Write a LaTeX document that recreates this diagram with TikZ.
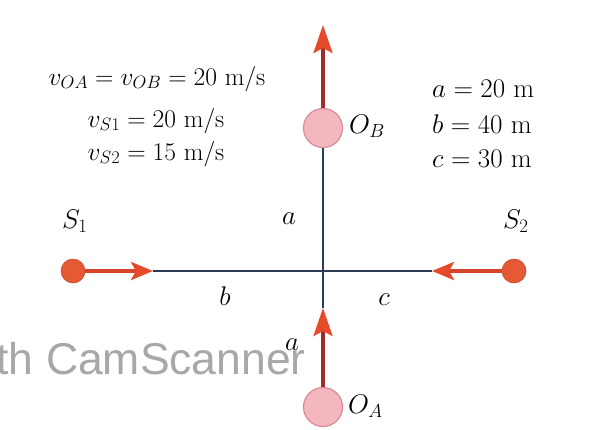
\RequirePackage{fix-cm}
\documentclass[tikz,border=0pt]{standalone}
\usepackage{fontspec}
\newfontfamily\wmfont{Liberation Sans}
\usetikzlibrary{arrows.meta}
\definecolor{linecol}{HTML}{2C3B55}
\definecolor{headcol}{HTML}{E54A2A}
\definecolor{oshaft}{HTML}{A02A2C}
\definecolor{sshaft}{HTML}{D6442B}
\definecolor{pinkfill}{HTML}{F4B7BF}
\definecolor{pinkdraw}{HTML}{D88C98}
\definecolor{dotcol}{HTML}{E55A35}
\definecolor{wmcol}{HTML}{A8A8A8}
\tikzset{
  eqtext/.style={font=\fontsize{25.5}{28}\selectfont, inner sep=0pt},
  lbltext/.style={font=\fontsize{27}{30}\selectfont, inner sep=0pt},
  ocircle/.style={circle, minimum size=39pt, inner sep=0pt, fill=pinkfill, draw=pinkdraw, line width=1.2pt},
  sdot/.style={circle, minimum size=24pt, inner sep=0pt, fill=dotcol, draw=dotcol!85!black, line width=0.6pt},
  thinline/.style={draw=linecol, line width=1.3pt},
  oarrow/.style={draw=oshaft, line width=3.5pt, -{Stealth[length=28pt,width=19pt,inset=5pt,color=headcol]}},
  sarrow/.style={draw=sshaft, line width=4pt, -{Stealth[length=22pt,width=18pt,inset=5pt,color=headcol]}},
}
\begin{document}
\begin{tikzpicture}[x=1pt,y=-1pt]
\useasboundingbox[fill=white] (0,0) rectangle (596,429);
% watermark
\node[anchor=base east, inner sep=0pt, text=wmcol, font=\wmfont\fontsize{44.5}{50}\selectfont] (wm) at (306,374) {th CamScanner};
% bodies
\node[ocircle] (OB) at (323,128) {};
\node[ocircle] (OA) at (323,407) {};
\node[sdot] (S1d) at (73,271) {};
\node[sdot] (S2d) at (514,271) {};
\coordinate (OBtip) at (323,25);
\coordinate (OAtip) at (323,308);
\coordinate (S1tip) at (153,271);
\coordinate (S2tip) at (432,271);
% thin lines
\draw[thinline] (OB.south) -- (OAtip);
\draw[thinline] (S1tip) -- (S2tip);
% arrows
\draw[oarrow] (OB.north) -- (OBtip);
\draw[oarrow] (OA.north) -- (OAtip);
\draw[sarrow] (S1d.east) -- (S1tip);
\draw[sarrow] (S2d.west) -- (S2tip);
% labels
\node[lbltext, anchor=base west] (lOB) at (349,133) {$O_B$};
\node[lbltext, anchor=base west] (lOA) at (348,413) {$O_A$};
\node[lbltext, anchor=base west] (lS1) at (62,228) {$S_1$};
\node[lbltext, anchor=base west] (lS2) at (503,228) {$S_2$};
\node[lbltext, anchor=base] (la1) at (289,224) {$a$};
\node[lbltext, anchor=base] (la2) at (292,350) {$a$};
\node[lbltext, anchor=base] (lb) at (225,305) {$b$};
\node[lbltext, anchor=base] (lc) at (384,305) {$c$};
% equations
\node[eqtext, anchor=base] (e1) at (157,85) {$v_{OA} = v_{OB} = 20\ \mathrm{m/s}$};
\node[eqtext, anchor=base] (e2) at (156,127) {$v_{S1} = 20\ \mathrm{m/s}$};
\node[eqtext, anchor=base] (e3) at (156,160) {$v_{S2} = 15\ \mathrm{m/s}$};
\node[eqtext, font=\fontsize{27}{30}\selectfont, anchor=base west] (r1) at (432,97) {$a = 20\ \mathrm{m}$};
\node[eqtext, font=\fontsize{27}{30}\selectfont, anchor=base west] (r2) at (432,133) {$b = 40\ \mathrm{m}$};
\node[eqtext, font=\fontsize{27}{30}\selectfont, anchor=base west] (r3) at (432,167) {$c = 30\ \mathrm{m}$};
\end{tikzpicture}
\end{document}
